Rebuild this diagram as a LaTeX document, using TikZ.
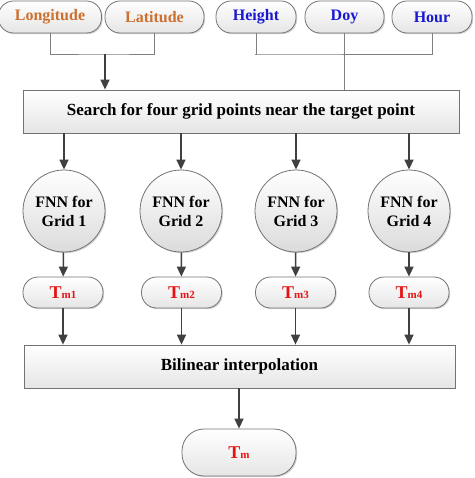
\documentclass[tikz,border=0pt]{standalone}
\usepackage{fontspec}
\setmainfont{Liberation Serif}
\usetikzlibrary{arrows.meta,shadows,positioning}
\definecolor{inorange}{RGB}{204,112,48}
\definecolor{inblue}{RGB}{25,25,210}
\definecolor{outred}{RGB}{228,20,20}
\tikzset{
  pill/.style={
    rectangle,
    rounded corners=15pt,
    top color=white,
    bottom color=black!10,
    draw=black!55, thick,
    drop shadow={shadow xshift=1.2pt, shadow yshift=-1.2pt, opacity=0.35},
    minimum height=32pt,
    inner sep=0pt,
    font=\fontsize{16}{18}\selectfont\bfseries},
  panel/.style={
    rectangle,
    top color=white,
    bottom color=black!10,
    draw=black!55, thick,
    drop shadow={shadow xshift=1.2pt, shadow yshift=-1.2pt, opacity=0.35},
    minimum height=43pt,
    inner sep=0pt,
    font=\fontsize{17}{19}\selectfont\bfseries},
  gridnet/.style={
    circle,
    top color=white,
    bottom color=black!14,
    draw=black!55, thick,
    drop shadow={shadow xshift=1.2pt, shadow yshift=-1.2pt, opacity=0.35},
    minimum size=82pt,
    inner sep=0pt,
    align=center,
    font=\fontsize{16}{19}\selectfont\bfseries},
}
\newcommand{\tmlabel}[1]{\textcolor{outred}{{\fontsize{18}{20}\selectfont T}{\fontsize{11}{12}\selectfont #1}}}

\begin{document}
\begin{tikzpicture}[
    x=1pt, y=-1pt,
    link/.style={draw=black!50, thick},
    arr/.style={draw=black!75, line width=1.5pt,
      -{Triangle[length=10pt, width=9pt]}},
    ]
    \useasboundingbox (0,0) rectangle (474,478);

    % inputs
    \node[pill, minimum width=103pt, text=inorange] (lon) at (50,17) {Longitude};
    \node[pill, minimum width=99pt, text=inorange] (lat) at (154.5,17) {Latitude};
    \node[pill, minimum width=80pt, text=inblue] (hgt) at (256,17) {Height};
    \node[pill, minimum width=79pt, text=inblue] (doy) at (344.5,17) {Doy};
    \node[pill, minimum width=80pt, text=inblue] (hour) at (432,17) {Hour};

    \node[panel, minimum width=436pt] (search) at (241,111.5)
         {Search for four grid points near the target point};

    % grid networks
    \node[gridnet] (fnn1) at (64,211) {FNN for\\Grid 1};
    \node[gridnet] (fnn2) at (181,211) {FNN for\\Grid 2};
    \node[gridnet] (fnn3) at (296,211) {FNN for\\Grid 3};
    \node[gridnet] (fnn4) at (409,211) {FNN for\\Grid 4};

    \node[pill, minimum width=80pt, minimum height=31pt] (tm1) at (63,292.5) {\tmlabel{m1}};
    \node[pill, minimum width=80pt, minimum height=31pt] (tm2) at (181.5,292.5) {\tmlabel{m2}};
    \node[pill, minimum width=80pt, minimum height=31pt] (tm3) at (295.5,292.5) {\tmlabel{m3}};
    \node[pill, minimum width=80pt, minimum height=31pt] (tm4) at (409,292.5) {\tmlabel{m4}};

    \node[panel, minimum width=431pt] (bil) at (239.5,366.5) {Bilinear interpolation};

    \node[pill, minimum width=114pt, minimum height=47pt, rounded corners=22pt]
         (tm) at (239,452.5) {\tmlabel{m}};

    % connectors
    \coordinate (jlon) at (105,54);
    \coordinate (jhgt) at (255,54);
    \draw[link] (lon.south) |- (jlon) -| (lat.south);
    \draw[arr] (jlon) -- (jlon |- search.north);
    \draw[link] (hgt.south) |- (jhgt) -| (hour.south);
    \draw[link] (doy.south) -- (doy.south |- search.north);

    \foreach \i in {1,...,4} {
      \draw[arr] (fnn\i |- search.south) -- (fnn\i);
      \draw[arr] (fnn\i) -- (tm\i);
      \draw[arr] (tm\i) -- (tm\i |- bil.north);
    }
    \draw[arr] (tm |- bil.south) -- (tm);

\end{tikzpicture}
\end{document}
